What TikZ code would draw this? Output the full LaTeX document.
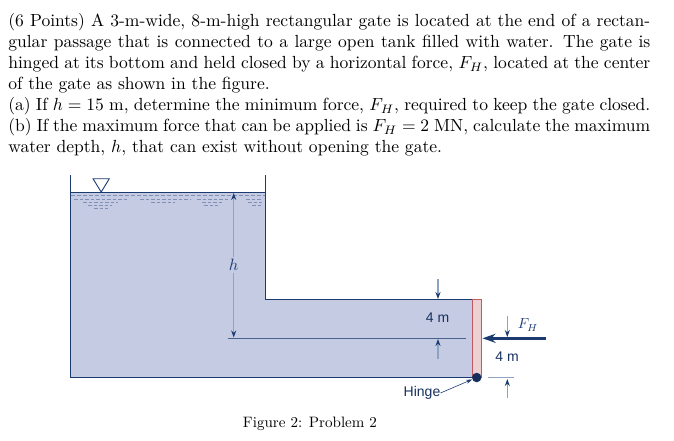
\documentclass[tikz,border=0pt]{standalone}
\usepackage{amsmath,amssymb}
\usepackage{fontspec}
\usepackage{xcolor}
\usetikzlibrary{arrows.meta,positioning,calc}
\newfontfamily\labelfont{Liberation Sans}
\definecolor{water}{HTML}{C4CBE3}
\definecolor{navy}{HTML}{1B3A70}
\definecolor{shaft}{HTML}{8EA2C2}
\definecolor{ripple}{HTML}{7F90B4}
\definecolor{gatefill}{HTML}{EDD0D2}
\definecolor{gateline}{HTML}{C05A62}
\tikzset{
  wall/.style = {draw = navy, line width = .9pt},
  dimline/.style = {draw = shaft, line width = 1.5pt, -{Stealth[color = navy, length = 7pt, width = 5pt]}},
  ticklabel/.style = {font = \labelfont\fontsize{14}{16}\selectfont, text = navy!85!black, inner sep = 0pt},
  mathlabel/.style = {text = navy, inner sep = 1pt, scale = 1.45},
  problemtext/.style = {anchor = north west, text width = 366pt, align = justify, inner sep = 0pt, scale = 1.754},
}
\begin{document}
\begin{tikzpicture}[x = 1pt, y = -1pt]
  \useasboundingbox (0,0) rectangle (674,441);
  \node[problemtext] (problem) at (8,13.2) {(6 Points) A 3-m-wide, 8-m-high rectangular gate is located at the end of a rectan-\linebreak
    gular passage that is connected to a large open tank filled with water. The gate is\linebreak
    hinged at its bottom and held closed by a horizontal force, $F_H$, located at the center\linebreak
    of the gate as shown in the figure.\\
    (a) If $h = 15$ m, determine the minimum force, $F_H$, required to keep the gate closed.\linebreak
    (b) If the maximum force that can be applied is $F_H = 2$ MN, calculate the maximum\linebreak
    water depth, $h$, that can exist without opening the gate.};
  \coordinate (tl) at (70.5,192.5);
  \coordinate (tr) at (265.3,192.5);
  \coordinate (st) at (265.3,299.5);
  \coordinate (gt) at (472.3,299.5);
  \coordinate (gb) at (472.3,377.3);
  \coordinate (bl) at (70.5,377.3);
  \fill[water] (tl) -- (tr) -- (st) -- (gt) -- (gb) -- (bl) -- cycle;
  % ripples under the surface
  \draw[ripple, line width = 1pt, dash pattern = on 4pt off 2pt] (71,195.5) -- (265,195.5);
  \foreach \xa/\xb/\ya in {74/128/199, 140/190/199, 197/230/199, 246/262/199,
    83/118/202.5, 151/175/202.5, 202/222/202.5, 248/262/202.5,
    88/112/205.5, 204/218/205.5, 252/262/205.5, 94/108/208.5}
    \draw[ripple, line width = .7pt, dash pattern = on 3.5pt off 2pt] (\xa,\ya) -- (\xb,\ya);
  \draw[wall] (70.5,175) -- (bl) -- (gb);
  \draw[wall] (265.3,175) -- (st) -- (gt);
  \draw[wall] (tl) -- (tr);
  \draw[navy, line width = .9pt] (93,178.7) -- (109.3,178.7) -- (101.2,192) -- cycle;
  \draw[draw = gateline, fill = gatefill, line width = .9pt] (gt) rectangle (481.7,377.3);
  \node[circle, fill = navy!80!black, inner sep = 0pt, minimum size = 9.5pt] (hinge) at (476.7,377.5) {};
  % center line of the gate
  \coordinate (cl) at (227.5,338.3);
  \coordinate (cr) at (466,338.3);
  \draw[navy!80, line width = .6pt] (cl) -- (cr);
  % depth h
  \coordinate (htop) at (233.7,193);
  \coordinate (hbot) at (233.7,337.5);
  \node[mathlabel, scale = 1.14] (h) at (233.7,265) {$h$};
  \draw[dimline] (h) -- (htop);
  \draw[dimline] (h) -- (hbot);
  % upper 4 m
  \coordinate (ua) at (438,279);
  \coordinate (ub) at (438,299);
  \coordinate (uc) at (438,359);
  \coordinate (ud) at (438,339);
  \draw[dimline] (ua) -- (ub);
  \draw[dimline] (uc) -- (ud);
  \node[ticklabel] (um) at (437.5,318) {4 m};
  % force
  \coordinate (fa) at (546,338.3);
  \coordinate (fb) at (482.5,338.3);
  \draw[draw = navy, line width = 2.6pt, -{Stealth[length = 13pt, width = 9pt]}] (fa) -- (fb);
  \node[mathlabel] (fh) at (528,325) {$F_H$};
  % lower 4 m
  \coordinate (la) at (507.3,316);
  \coordinate (lb) at (507.3,337);
  \coordinate (lc) at (507.3,398);
  \coordinate (ld) at (507.3,379);
  \coordinate (ta) at (488,377.8);
  \coordinate (tb) at (514,377.8);
  \draw[dimline] (la) -- (lb);
  \draw[dimline] (lc) -- (ld);
  \draw[draw = shaft, line width = 1pt] (ta) -- (tb);
  \node[ticklabel] (lm) at (507,357) {4 m};
  % hinge label
  \node[ticklabel] (hl) at (422,393) {Hinge};
  \draw[navy, line width = .6pt, -{Stealth[length = 6pt, width = 4pt]}] (hl.east) -- (hinge);
  \node[inner sep = 0pt, scale = 1.507] (caption) at (310,424) {Figure 2: Problem 2};
\end{tikzpicture}
\end{document}
